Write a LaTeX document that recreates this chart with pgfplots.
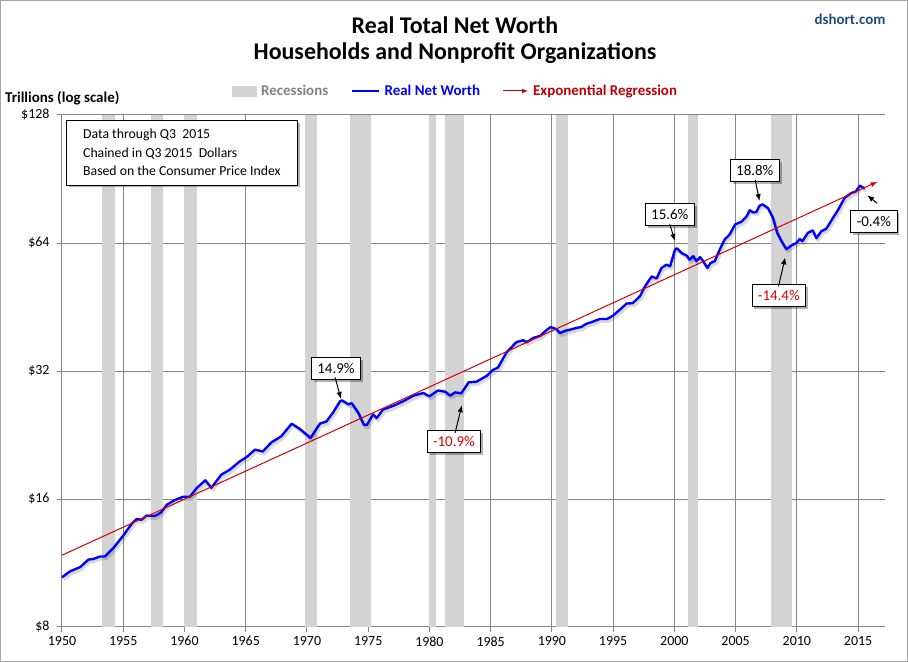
\documentclass[border=0pt]{standalone}
\usepackage{fontspec}
\setmainfont{Carlito}
\usepackage{pgfplots}
\usepackage{pgfplotstable}
\pgfplotsset{compat=1.18}
\usetikzlibrary{arrows.meta,shadows}

\definecolor{recgray}{RGB}{211,211,211}
\definecolor{rectext}{RGB}{128,128,128}
\definecolor{gridgray}{RGB}{134,134,134}
\definecolor{regred}{RGB}{212,0,0}
\definecolor{legred}{RGB}{192,0,0}
\definecolor{nwblue}{RGB}{0,0,255}
\definecolor{dshortblue}{RGB}{31,73,125}
\definecolor{negred}{RGB}{220,0,0}

% Real household net worth, trillions of Q3 2015 dollars
\pgfplotstableread{
year nw
1950.0 10.47
1950.65 10.81
1951.5 11.07
1952.15 11.52
1952.55 11.56
1953.1 11.72
1953.5 11.72
1954.2 12.27
1955.0 13.12
1955.7 14.0
1956.1 14.36
1956.5 14.3
1956.9 14.62
1957.6 14.6
1958.1 14.88
1958.55 15.5
1959.2 15.9
1959.9 16.2
1960.45 16.2
1961.0 16.98
1961.7 17.7
1962.2 17.0
1963.0 18.25
1963.7 18.75
1964.5 19.6
1965.1 20.1
1965.75 20.9
1966.4 20.7
1967.1 21.74
1967.9 22.46
1968.75 24.05
1969.4 23.4
1970.3 22.27
1971.05 24.05
1971.6 24.35
1972.15 25.6
1972.7 27.15
1972.85 27.3
1973.4 26.7
1973.65 26.9
1974.2 25.5
1974.65 23.9
1974.9 23.9
1975.4 25.3
1975.7 24.8
1976.2 25.95
1977.05 26.5
1977.85 27.15
1978.7 28.0
1979.5 28.4
1980.0 27.9
1980.7 28.8
1981.3 28.6
1981.7 28.0
1982.1 28.5
1982.6 28.35
1983.2 30.1
1983.85 30.2
1984.7 31.2
1985.2 32.2
1985.6 32.6
1986.3 35.4
1987.1 37.4
1987.65 37.8
1987.95 37.4
1988.5 38.3
1989.05 38.7
1989.45 39.7
1989.9 40.6
1990.4 40.1
1990.65 39.3
1991.1 39.8
1991.6 40.1
1992.0 40.4
1992.4 40.6
1992.8 41.3
1993.25 41.7
1993.9 42.4
1994.5 42.4
1995.0 43.2
1995.55 44.6
1996.1 46.1
1996.6 46.2
1997.2 48.0
1997.6 50.6
1998.15 53.4
1998.55 52.8
1998.95 55.9
1999.35 56.9
1999.65 56.4
2000.05 61.7
2000.2 62.2
2000.6 60.6
2001.0 59.8
2001.25 58.5
2001.55 59.6
2001.8 58.0
2002.1 59.3
2002.35 58.0
2002.7 55.9
2002.95 57.4
2003.3 58.0
2003.7 61.7
2004.1 65.2
2004.5 66.9
2004.95 70.7
2005.5 71.9
2005.9 73.9
2006.15 76.4
2006.45 75.5
2006.7 75.7
2006.95 78.3
2007.2 78.9
2007.65 77.3
2008.05 73.3
2008.4 67.6
2008.75 64.6
2009.15 61.9
2009.55 63.1
2009.95 64.0
2010.25 65.4
2010.45 64.6
2010.9 67.6
2011.3 68.5
2011.6 65.7
2012.0 68.2
2012.4 69.1
2012.95 73.3
2013.35 76.4
2013.9 81.7
2014.45 83.9
2014.8 84.5
2015.15 87.3
2015.55 85.9
}\networth

\tikzset{
  annbox/.style={draw=black, fill=white, line width=0.8bp, inner xsep=6bp, inner ysep=3bp,
    minimum height=22bp, font=\fontsize{15}{17}\selectfont,
    drop shadow={shadow xshift=2.5bp, shadow yshift=-2.5bp, fill=black, opacity=0.3}},
  annarrow/.style={draw=black, line width=1bp, -{Latex[length=7bp,width=5.5bp]}},
}

\begin{document}
\begin{tikzpicture}
\useasboundingbox (0bp,0bp) rectangle (908bp,662bp);
\draw[gray!70, line width=1bp] (0.5bp,0.5bp) rectangle (907.5bp,661.5bp);

\node[font=\fontsize{24}{28}\selectfont\bfseries] at (455bp,637bp) {Real Total Net Worth};
\node[font=\fontsize{24}{28}\selectfont\bfseries] at (455bp,609bp) {Households and Nonprofit Organizations};
\node[anchor=east, font=\fontsize{15}{18}\selectfont\bfseries, text=dshortblue] at (889bp,643bp) {dshort.com};
\node[anchor=west, font=\fontsize{15}{18}\selectfont\bfseries, inner sep=0pt] at (5bp,564bp) {Trillions (log scale)};

\begin{axis}[
  at={(62bp,35bp)}, anchor=south west,
  scale only axis, width=823bp, height=512bp,
  xmin=1950, xmax=2017.2,
  ymode=log, log basis y=2,
  ymin=8, ymax=128,
  clip=false,
  axis x line*=bottom, axis y line*=left,
  axis line style={draw=gridgray, line width=1bp},
  xtick={1950,1955,...,2015},
  ytick={8,16,32,64,128},
  yticklabels={\$8,\$16,\$32,\$64,\$128},
  grid=major,
  major grid style={draw=gridgray, line width=1bp},
  tick align=outside,
  major tick length=5bp,
  tick style={draw=gridgray, line width=1bp},
  /pgf/number format/assume math mode=true,
  /pgf/number format/1000 sep={},
  ticklabel style={font=\fontsize{14}{16}\selectfont},
  yticklabel style={xshift=-4bp},
  xticklabel style={yshift=-1bp},
  legend columns=3,
  legend style={at={(0.478,1)}, anchor=center, yshift=24bp, draw=none, fill=none,
    font=\fontsize{15}{18}\selectfont\bfseries,
    nodes={inner xsep=1.5bp},
    /tikz/every odd column/.append style={column sep=3bp},
    /tikz/every even column/.append style={column sep=21bp}},
]
% recession bands
\addplot[fill=recgray, draw=none, forget plot] coordinates {(1953.3,8) (1953.3,128) (1954.3,128) (1954.3,8)} -- cycle;
\addplot[fill=recgray, draw=none, forget plot] coordinates {(1957.3,8) (1957.3,128) (1958.25,128) (1958.25,8)} -- cycle;
\addplot[fill=recgray, draw=none, forget plot] coordinates {(1960.0,8) (1960.0,128) (1961.0,128) (1961.0,8)} -- cycle;
\addplot[fill=recgray, draw=none, forget plot] coordinates {(1969.85,8) (1969.85,128) (1970.8,128) (1970.8,8)} -- cycle;
\addplot[fill=recgray, draw=none, forget plot] coordinates {(1973.5,8) (1973.5,128) (1975.2,128) (1975.2,8)} -- cycle;
\addplot[fill=recgray, draw=none, forget plot] coordinates {(1980.0,8) (1980.0,128) (1980.5,128) (1980.5,8)} -- cycle;
\addplot[fill=recgray, draw=none, forget plot] coordinates {(1981.3,8) (1981.3,128) (1982.8,128) (1982.8,8)} -- cycle;
\addplot[fill=recgray, draw=none, forget plot] coordinates {(1990.3,8) (1990.3,128) (1991.3,128) (1991.3,8)} -- cycle;
\addplot[fill=recgray, draw=none, forget plot] coordinates {(2001.1,8) (2001.1,128) (2001.9,128) (2001.9,8)} -- cycle;
\addplot[fill=recgray, draw=none, forget plot] coordinates {(2007.85,8) (2007.85,128) (2009.6,128) (2009.6,8)} -- cycle;

% net worth with a soft shadow
\addplot[black, opacity=0.15, line width=3bp, line join=round, forget plot,
  transform canvas={xshift=1.5bp, yshift=-2.5bp}] table[x=year, y=nw] {\networth};
\addplot[nwblue, line width=2.4bp, line join=round, forget plot] table[x=year, y=nw] {\networth};

% exponential trend
\addplot[regred, line width=1bp, forget plot, -{Latex[length=7bp,width=5bp]}] coordinates {(1950,11.8) (2016.6,89.2)};

% legend
\addlegendimage{legend image code/.code={\fill[recgray] (0bp,-5bp) rectangle (24bp,5bp);}}
\addlegendentry{\textcolor{rectext}{Recessions}}
\addlegendimage{legend image code/.code={\draw[nwblue, line width=2.4bp] (0bp,0bp) -- (27bp,0bp);}}
\addlegendentry{\textcolor{nwblue}{Real Net Worth}}
\addlegendimage{legend image code/.code={\draw[legred, line width=1bp, -{Latex[length=6bp,width=4.5bp]}] (0bp,0bp) -- (25bp,0bp);}}
\addlegendentry{\textcolor{legred}{Exponential Regression}}

% annotations: deviation from trend
\node[annbox] (a1) at (axis cs:1972.37,32.4) {14.9\%};
\draw[annarrow] (axis cs:1972.3,30.9) -- (axis cs:1972.78,27.5);
\node[annbox, text=negred] (a2) at (axis cs:1982.0,21.8) {-10.9\%};
\draw[annarrow] (axis cs:1982.1,22.9) -- (axis cs:1982.65,26.6);
\node[annbox] (a3) at (axis cs:1999.63,74.6) {15.6\%};
\draw[annarrow] (axis cs:1999.63,70.9) -- (axis cs:2000.04,64.7);
\node[annbox] (a4) at (axis cs:2006.57,94.7) {18.8\%};
\draw[annarrow] (axis cs:2006.6,90.1) -- (axis cs:2006.95,80.3);
\node[annbox, text=negred] (a5) at (axis cs:2008.53,48.1) {-14.4\%};
\draw[annarrow] (axis cs:2008.5,50.6) -- (axis cs:2009.05,59.2);
\node[annbox] (a6) at (axis cs:2016.29,71.8) {-0.4\%};
\draw[annarrow] (axis cs:2016.55,79.4) -- (axis cs:2015.75,82.9);
\end{axis}

\node[draw=black, fill=white, line width=0.8bp, anchor=north west, align=left,
  inner xsep=9.5bp, inner ysep=9bp, minimum width=231bp,
  font=\fontsize{13.8}{18.5}\selectfont,
  drop shadow={shadow xshift=2.5bp, shadow yshift=-2.5bp, fill=black, opacity=0.3}]
  at (66bp,542bp) {Data through Q3\ \ 2015\\Chained in Q3 2015\ \ Dollars\\Based on the Consumer Price Index};
\end{tikzpicture}
\end{document}
